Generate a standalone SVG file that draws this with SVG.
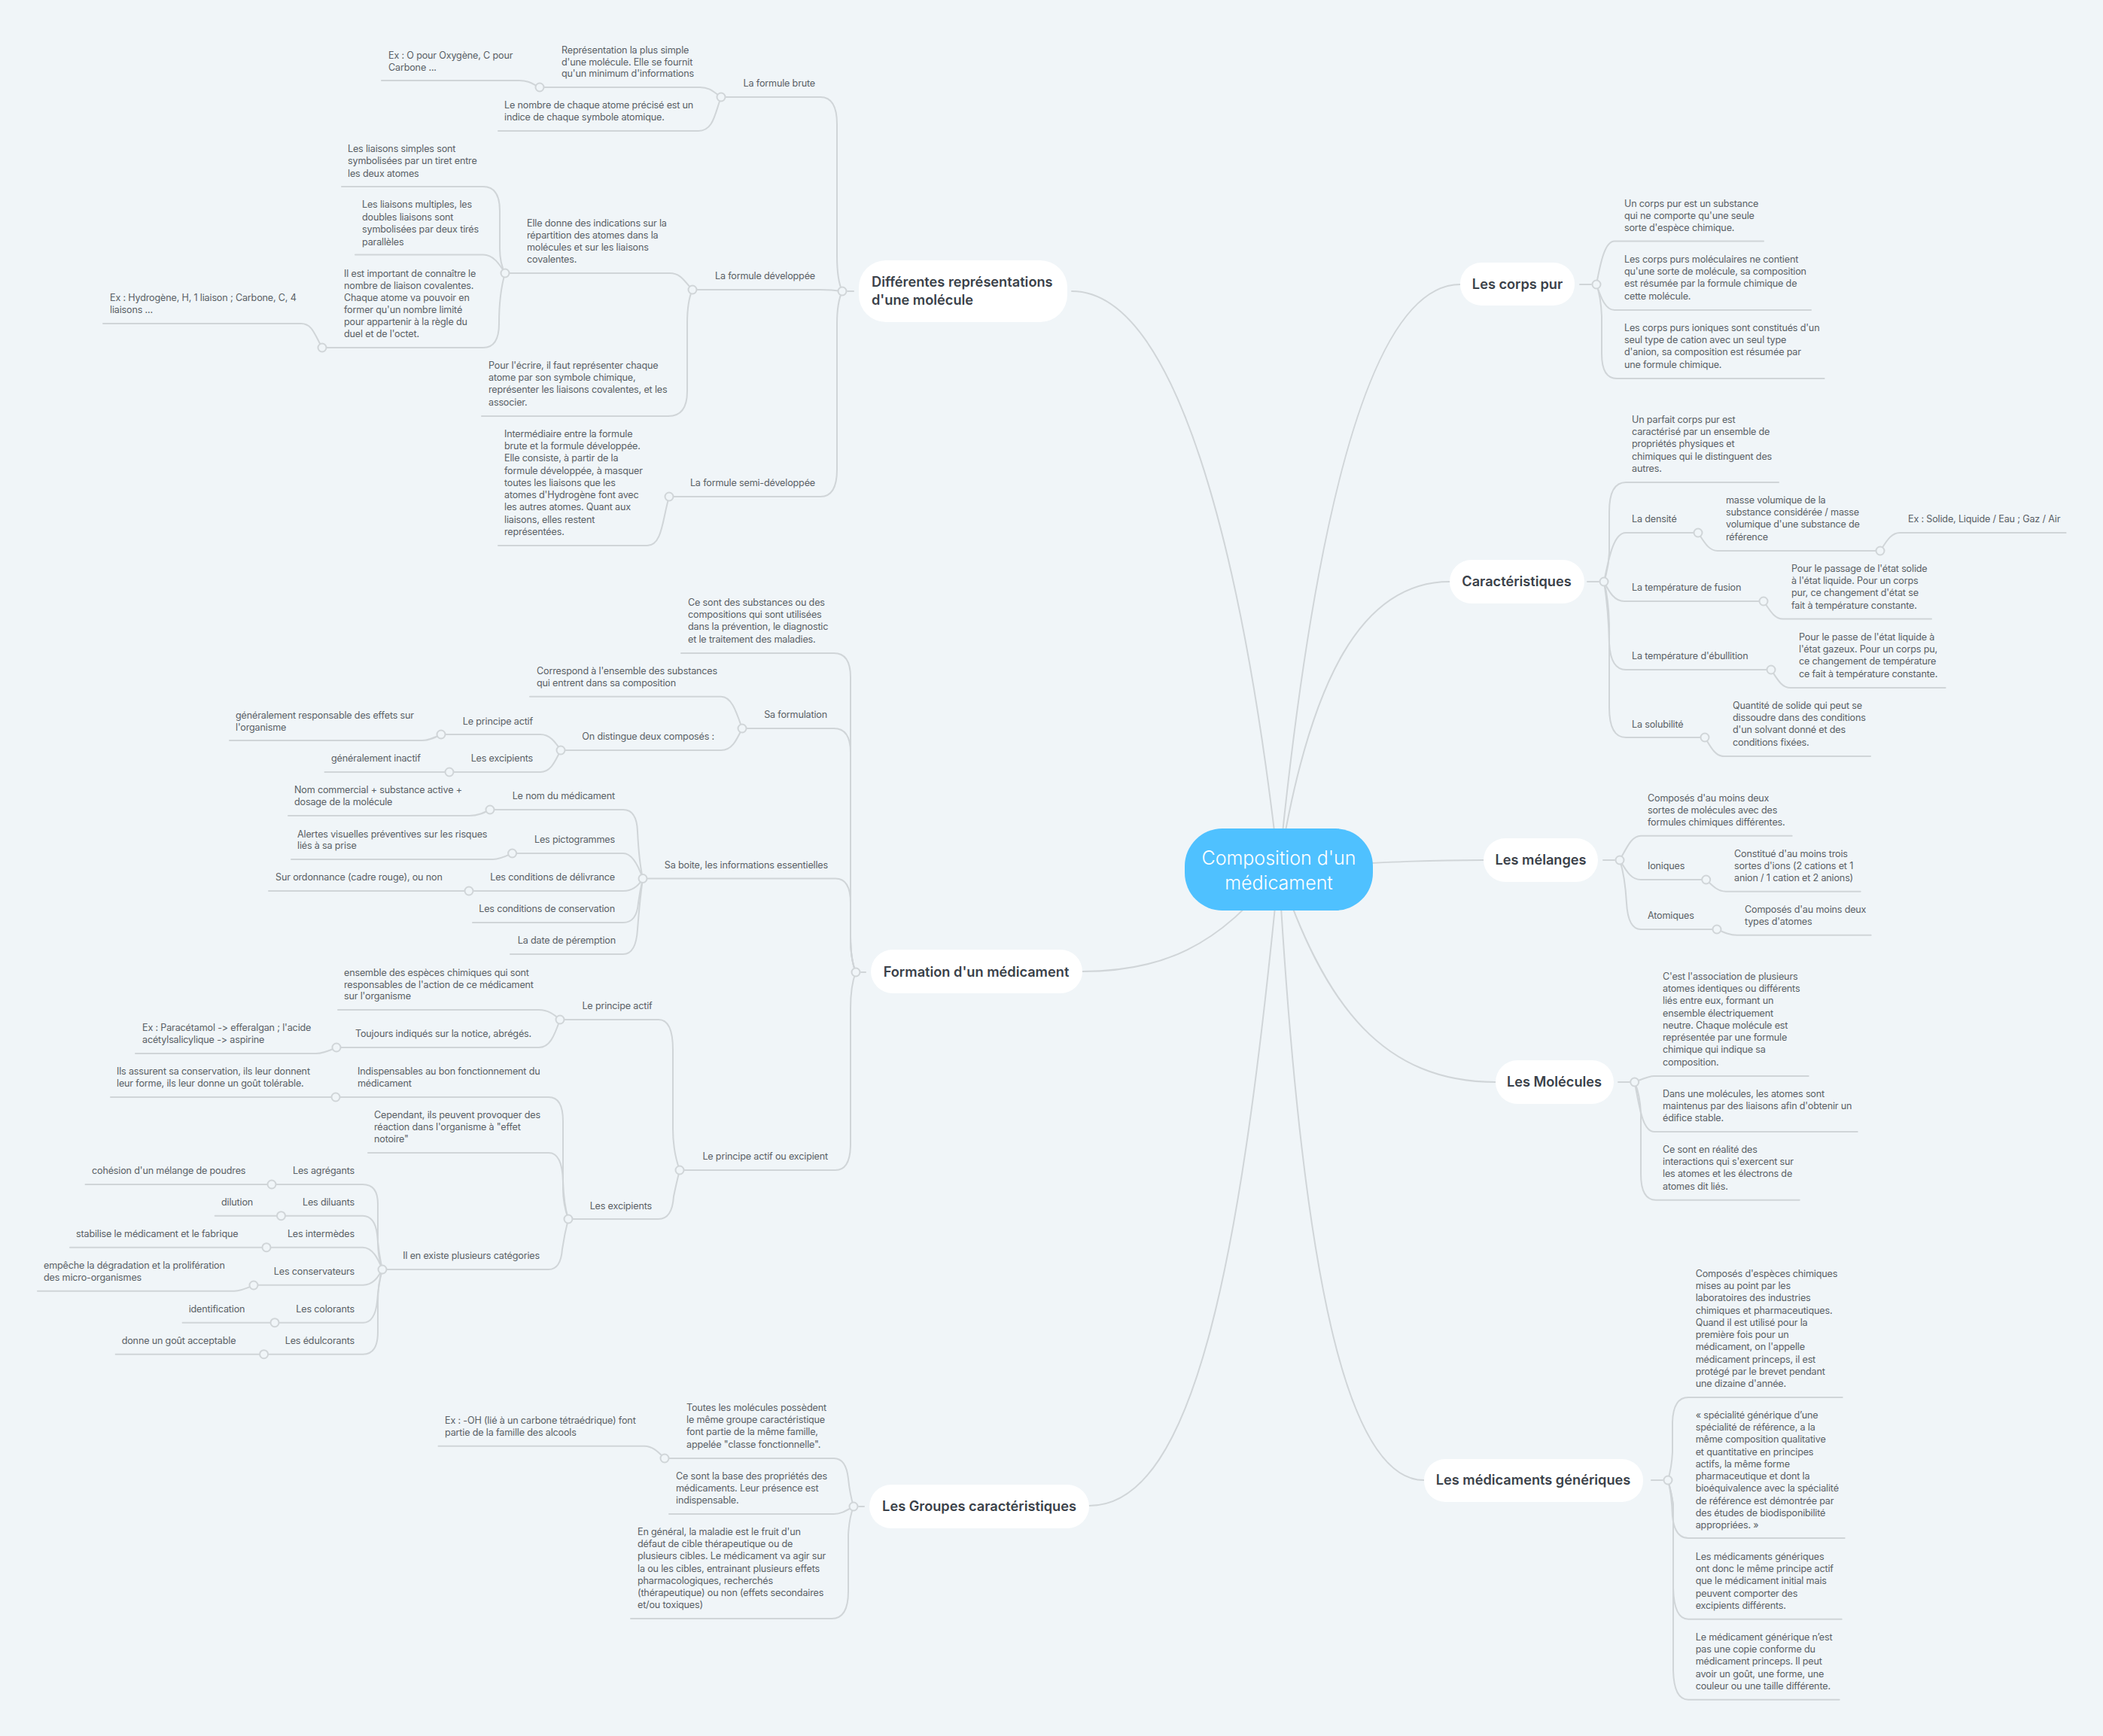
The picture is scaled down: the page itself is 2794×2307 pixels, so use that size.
<svg xmlns="http://www.w3.org/2000/svg" width="2794" height="2307" viewBox="0 0 2794 2307">
<style>
.bg{fill:#F0F5F8}
.c path{fill:none;stroke:#D0D5D8;stroke-width:2;stroke-linecap:round}
.j circle{fill:#F0F5F8;stroke:#D0D5D8;stroke-width:2}
text{font-family:"Inter","Noto Sans","Liberation Sans",sans-serif;font-variant-ligatures:none;font-feature-settings:"calt" 0,"liga" 0}
.t{font-size:12.6px;letter-spacing:-0.17px;fill:#595F65;font-weight:400}
.e{text-anchor:end}
.b{font-size:18.2px;font-weight:600;fill:#3A4149}
.m{text-anchor:middle}
.r{font-size:25px;font-weight:300;fill:#FFFFFF;text-anchor:middle}
.tp{fill:#FFFFFF}
</style>
<rect class="bg" width="2794" height="2307"/>
<g id="connectors" class="c">
<path d="M1424 387 C1560 387 1650 720 1699 1155"/>
<path d="M1940 378 C1830 378 1750 640 1699 1155"/>
<path d="M1926 773 C1810 773 1740 900 1699 1155"/>
<path d="M1971 1143 C1900 1143 1860 1145 1760 1150"/>
<path d="M1987 1438 C1840 1438 1760 1340 1699 1155"/>
<path d="M1892 1967 C1790 1967 1730 1700 1699 1155"/>
<path d="M1447 2001 C1590 2001 1650 1660 1699 1155"/>
<path d="M1438 1291 C1540 1291 1620 1260 1699 1155"/>
<path d="M958 129 H1090 Q1112 129 1112 165 V340 Q1112 372 1119 387"/>
<path d="M920 385 H1090 Q1105 385 1119 387"/>
<path d="M889 660 H1090 Q1112 660 1112 624 V430 Q1112 402 1119 387"/>
<path d="M1126 387 H1134"/>
<path d="M717 116 H930 C943 116 948 122 958 129"/>
<path d="M662 174 H928 C948 174 950 150 958 129"/>
<path d="M507 107 H690 C703 107 708 112 717 116"/>
<path d="M671 363 H890 C905 363 910 375 920 385"/>
<path d="M640 553 H888 Q913 553 913 520 V430 Q913 400 920 385"/>
<path d="M454 248 H642 Q664 248 664 280 V330 Q664 350 671 363"/>
<path d="M472 338.5 H642 C655 338.5 663 350 671 363"/>
<path d="M428 462 H642 Q663 462 663 430 Q663 390 671 363"/>
<path d="M137 430 H400 C415 430 418 445 428 462"/>
<path d="M662 725 H860 C880 725 880 690 889 660"/>
<path d="M905 868 H1108 Q1130 868 1130 900 V1245 Q1130 1275 1137 1292"/>
<path d="M986 968 H1108 Q1130 968 1130 1000 V1245 Q1130 1275 1137 1292"/>
<path d="M854 1167.5 H1110 Q1130 1167.5 1130 1200 V1245 Q1130 1275 1137 1292"/>
<path d="M903 1555 H1110 Q1130 1555 1130 1520 V1340 Q1130 1310 1137 1292"/>
<path d="M1144 1292 H1150"/>
<path d="M704 925.7 H958 C972 925.7 978 945 986 968"/>
<path d="M745 997 H958 C972 997 978 985 986 968"/>
<path d="M586 976 H718 C730 976 737 985 745 997"/>
<path d="M431.5 1026 H718 C732 1026 737 1012 745 997"/>
<path d="M305 984 H561 C570 984 578 980 586 976"/>
<path d="M651 1076 H828 Q846 1076 847 1105 Q849 1145 854 1167.5"/>
<path d="M680.6 1134 H828 C840 1134 848 1150 854 1167.5"/>
<path d="M357 1184 H828 C840 1184 848 1178 854 1167.5"/>
<path d="M628 1226 H828 Q846 1226 848 1200 Q850 1185 854 1167.5"/>
<path d="M678 1268 H828 Q845 1268 847 1235 Q850 1195 854 1167.5"/>
<path d="M383 1084 H624 C635 1084 643 1080 651 1076"/>
<path d="M387 1142 H655 C664 1142 672 1138 680.6 1134"/>
<path d="M744 1355 H875 Q894 1355 894 1395 V1500 Q894 1530 903 1555"/>
<path d="M755 1620 H875 Q893 1620 895 1590 Q898 1575 903 1555"/>
<path d="M449 1342 H716 C728 1342 736 1348 744 1355"/>
<path d="M447 1392 H716 C730 1392 736 1378 744 1355"/>
<path d="M180 1400 H420 C430 1400 438 1396 447 1392"/>
<path d="M147 1458 H729 Q748 1458 748 1490 V1580 Q748 1600 755 1620"/>
<path d="M489 1532 H729 Q747 1532 748 1570 Q749 1600 755 1620"/>
<path d="M508 1687 H729 Q745 1687 747 1660 Q750 1640 755 1620"/>
<path d="M113.5 1574 H482 Q502 1574 502 1600 V1650 Q502 1670 508 1687"/>
<path d="M285.7 1615.7 H482 Q498 1616 501 1640 Q503 1665 508 1687"/>
<path d="M93 1657.7 H482 C495 1658 502 1672 508 1687"/>
<path d="M337 1707.7 H482 C495 1708 502 1698 508 1687"/>
<path d="M242.6 1757.7 H482 Q498 1758 501 1730 Q503 1705 508 1687"/>
<path d="M153.7 1799.7 H482 Q502 1800 502 1770 V1730 Q502 1705 508 1687"/>
<path d="M50 1715.7 H311 C320 1715.7 328 1712 337 1708"/>
<path d="M883 1938 H1108 Q1124 1938 1127 1965 Q1129 1985 1134 2002"/>
<path d="M889 2012 H1108 C1118 2012 1125 2007 1134 2002"/>
<path d="M838 2151 H1105 Q1127 2151 1127 2115 V2040 Q1128 2018 1134 2002"/>
<path d="M1141 2002 H1148"/>
<path d="M582.5 1921.7 H856 C868 1922 875 1930 883 1938"/>
<path d="M2343 320.6 H2145 C2133 320.6 2127 345 2121 378"/>
<path d="M2406 412 H2145 C2133 412 2127 396 2121 378"/>
<path d="M2423.6 503 H2148 Q2128 503 2128 470 V420 Q2127 395 2121 378"/>
<path d="M2099 378 H2114"/>
<path d="M2363 641 H2160 Q2138 641 2138 680 V735 Q2137 755 2131 773"/>
<path d="M2256 708 H2160 C2143 708 2137 745 2131 773"/>
<path d="M2343 799 H2158 C2145 799 2138 787 2131 773"/>
<path d="M2353 890 H2160 Q2140 890 2138 855 Q2137 810 2131 773"/>
<path d="M2265 980 H2160 Q2138 980 2138 940 V830 Q2137 795 2131 773"/>
<path d="M2109 773 H2124"/>
<path d="M2498 732 H2282 C2270 732 2264 720 2256 708"/>
<path d="M2744.6 708 H2524 C2512 708 2506 720 2498 732"/>
<path d="M2566 822.6 H2368.6 C2357 822.6 2351 810 2343 799"/>
<path d="M2584.6 914 H2378.7 C2367 914 2361 902 2353 890"/>
<path d="M2485 1005 H2290 C2279 1005 2273 993 2265 980"/>
<path d="M2380.7 1110.7 H2180 C2168 1110.7 2162 1125 2152 1143"/>
<path d="M2266.7 1169 H2180 C2168 1169 2162 1160 2152 1143"/>
<path d="M2281 1235 H2180 Q2163 1235 2161 1200 Q2159 1165 2152 1143"/>
<path d="M2130 1143 H2145"/>
<path d="M2471.7 1184.7 H2293 C2282 1184.7 2275 1177 2266.7 1169"/>
<path d="M2485.7 1242.7 H2308 C2298 1242.7 2290 1239 2281 1235"/>
<path d="M2402.7 1430 H2198 C2190 1430 2182 1434 2171.7 1438"/>
<path d="M2467.7 1504 H2198 C2182 1504 2178 1470 2171.7 1438"/>
<path d="M2390.7 1594.7 H2200 Q2180 1594.7 2180 1560 V1480 Q2179 1455 2171.7 1438"/>
<path d="M2150 1438 H2165"/>
<path d="M2447.7 1857 H2243 Q2223 1857 2222 1890 V1930 Q2221 1950 2216 1967"/>
<path d="M2450.7 2044 H2243 Q2225 2044 2222 2015 Q2221 1985 2216 1967"/>
<path d="M2446.7 2151.7 H2243 Q2224 2151.7 2223 2110 V2000 Q2221 1985 2216 1967"/>
<path d="M2443.7 2258.7 H2243 Q2224 2258.7 2223 2220 V2000 Q2221 1985 2216 1967"/>
<path d="M2194 1967 H2209"/>
</g>
<g id="junctions" class="j">
<circle cx="1119" cy="387" r="5.5"/><circle cx="958" cy="129" r="5.5"/><circle cx="717" cy="116" r="5.5"/><circle cx="920" cy="385" r="5.5"/><circle cx="671" cy="363" r="5.5"/><circle cx="428" cy="462" r="5.5"/><circle cx="889" cy="660" r="5.5"/>
<circle cx="1137" cy="1292" r="5.5"/><circle cx="986" cy="968" r="5.5"/><circle cx="745" cy="997" r="5.5"/><circle cx="586" cy="976" r="5.5"/><circle cx="597" cy="1026" r="5.5"/><circle cx="854" cy="1167.5" r="5.5"/><circle cx="651" cy="1076" r="5.5"/><circle cx="680.6" cy="1134" r="5.5"/><circle cx="623" cy="1184" r="5.5"/><circle cx="903" cy="1555" r="5.5"/><circle cx="744" cy="1355" r="5.5"/><circle cx="447" cy="1392" r="5.5"/><circle cx="755" cy="1620" r="5.5"/><circle cx="446" cy="1458" r="5.5"/><circle cx="508" cy="1687" r="5.5"/><circle cx="361" cy="1574" r="5.5"/><circle cx="373.5" cy="1615.7" r="5.5"/><circle cx="354" cy="1657.7" r="5.5"/><circle cx="337" cy="1708" r="5.5"/><circle cx="365" cy="1757.7" r="5.5"/><circle cx="350.6" cy="1799.7" r="5.5"/>
<circle cx="1134" cy="2002" r="5.5"/><circle cx="883" cy="1938" r="5.5"/>
<circle cx="2121" cy="378" r="5.5"/><circle cx="2131" cy="773" r="5.5"/><circle cx="2256" cy="708" r="5.5"/><circle cx="2498" cy="732" r="5.5"/><circle cx="2343" cy="799" r="5.5"/><circle cx="2353" cy="890" r="5.5"/><circle cx="2265" cy="980" r="5.5"/>
<circle cx="2152" cy="1143" r="5.5"/><circle cx="2266.7" cy="1169" r="5.5"/><circle cx="2281" cy="1235" r="5.5"/><circle cx="2171.7" cy="1438" r="5.5"/><circle cx="2216" cy="1967" r="5.5"/>
</g>
<g id="root"><rect x="1574" y="1101" width="250" height="109" rx="50" fill="#4FC1FF"/><text class="r"><tspan x="1699" y="1149">Composition d'un</tspan><tspan x="1699" y="1182">médicament</tspan></text></g>
<g id="topic-representations"><rect class="tp" x="1141" y="346" width="277" height="82" rx="36"/><text class="b"><tspan x="1158" y="381">Différentes représentations</tspan><tspan x="1158" y="405">d'une molécule</tspan></text></g>
<g id="topic-formation"><rect class="tp" x="1157" y="1262" width="281" height="58" rx="29"/><text class="b m" x="1297" y="1298">Formation d'un médicament</text></g>
<g id="topic-groupes"><rect class="tp" x="1155" y="1973" width="292" height="58" rx="29"/><text class="b m" x="1301" y="2008">Les Groupes caractéristiques</text></g>
<g id="topic-corps"><rect class="tp" x="1940" y="349" width="152" height="57" rx="28"/><text class="b m" x="2016" y="384">Les corps pur</text></g>
<g id="topic-caract"><rect class="tp" x="1926" y="744" width="179" height="58" rx="29"/><text class="b m" x="2015" y="779">Caractéristiques</text></g>
<g id="topic-melanges"><rect class="tp" x="1971" y="1114" width="152" height="58" rx="29"/><text class="b m" x="2047" y="1149">Les mélanges</text></g>
<g id="topic-molecules"><rect class="tp" x="1987" y="1409" width="157" height="58" rx="29"/><text class="b m" x="2065" y="1444">Les Molécules</text></g>
<g id="topic-generiques"><rect class="tp" x="1892" y="1939" width="291" height="57" rx="28"/><text class="b m" x="2037" y="1973">Les médicaments génériques</text></g>

<g id="n1"><text class="t e" x="1083" y="115">La formule brute</text></g>
<g id="n2"><text class="t"><tspan x="746" y="71">Représentation la plus simple</tspan><tspan x="746" y="87">d'une molécule. Elle se fournit</tspan><tspan x="746" y="102">qu'un minimum d'informations</tspan></text></g>
<g id="n3"><text class="t"><tspan x="516" y="78">Ex : O pour Oxygène, C pour</tspan><tspan x="516" y="94">Carbone ...</tspan></text></g>
<g id="n4"><text class="t"><tspan x="670" y="144">Le nombre de chaque atome précisé est un</tspan><tspan x="670" y="160">indice de chaque symbole atomique.</tspan></text></g>
<g id="n5"><text class="t e" x="1083" y="371">La formule développée</text></g>
<g id="n6"><text class="t"><tspan x="700" y="301">Elle donne des indications sur la</tspan><tspan x="700" y="317">répartition des atomes dans la</tspan><tspan x="700" y="333">molécules et sur les liaisons</tspan><tspan x="700" y="349">covalentes.</tspan></text></g>
<g id="n7"><text class="t"><tspan x="462" y="202">Les liaisons simples sont</tspan><tspan x="462" y="218">symbolisées par un tiret entre</tspan><tspan x="462" y="235">les deux atomes</tspan></text></g>
<g id="n8"><text class="t"><tspan x="481" y="276">Les liaisons multiples, les</tspan><tspan x="481" y="293">doubles liaisons sont</tspan><tspan x="481" y="309">symbolisées par deux tirés</tspan><tspan x="481" y="326">parallèles</tspan></text></g>
<g id="n9"><text class="t"><tspan x="457" y="368">Il est important de connaître le</tspan><tspan x="457" y="384">nombre de liaison covalentes.</tspan><tspan x="457" y="400">Chaque atome va pouvoir en</tspan><tspan x="457" y="416">former qu'un nombre limité</tspan><tspan x="457" y="432">pour appartenir à la règle du</tspan><tspan x="457" y="448">duel et de l'octet.</tspan></text></g>
<g id="n10"><text class="t"><tspan x="146" y="400">Ex : Hydrogène, H, 1 liaison ; Carbone, C, 4</tspan><tspan x="146" y="416">liaisons ...</tspan></text></g>
<g id="n11"><text class="t"><tspan x="649" y="490">Pour l'écrire, il faut représenter chaque</tspan><tspan x="649" y="506">atome par son symbole chimique,</tspan><tspan x="649" y="522">représenter les liaisons covalentes, et les</tspan><tspan x="649" y="539">associer.</tspan></text></g>
<g id="n12"><text class="t e" x="1083" y="646">La formule semi-développée</text></g>
<g id="n13"><text class="t"><tspan x="670" y="581">Intermédiaire entre la formule</tspan><tspan x="670" y="597">brute et la formule développée.</tspan><tspan x="670" y="613">Elle consiste, à partir de la</tspan><tspan x="670" y="630">formule développée, à masquer</tspan><tspan x="670" y="646">toutes les liaisons que les</tspan><tspan x="670" y="662">atomes d'Hydrogène font avec</tspan><tspan x="670" y="678">les autres atomes. Quant aux</tspan><tspan x="670" y="695">liaisons, elles restent</tspan><tspan x="670" y="711">représentées.</tspan></text></g>

<g id="n14"><text class="t"><tspan x="914" y="805">Ce sont des substances ou des</tspan><tspan x="914" y="821">compositions qui sont utilisées</tspan><tspan x="914" y="837">dans la prévention, le diagnostic</tspan><tspan x="914" y="854">et le traitement des maladies.</tspan></text></g>
<g id="n15"><text class="t e" x="1099" y="954">Sa formulation</text></g>
<g id="n16"><text class="t"><tspan x="713" y="896">Correspond à l'ensemble des substances</tspan><tspan x="713" y="912">qui entrent dans sa composition</tspan></text></g>
<g id="n17"><text class="t e" x="949" y="983">On distingue deux composés :</text></g>
<g id="n18"><text class="t e" x="708" y="963">Le principe actif</text></g>
<g id="n19"><text class="t"><tspan x="313" y="955">généralement responsable des effets sur</tspan><tspan x="313" y="971">l'organisme</tspan></text></g>
<g id="n20"><text class="t e" x="708" y="1012">Les excipients</text></g>
<g id="n21"><text class="t" x="440" y="1012">généralement inactif</text></g>
<g id="n22"><text class="t e" x="1100" y="1154">Sa boite, les informations essentielles</text></g>
<g id="n23"><text class="t e" x="817" y="1062">Le nom du médicament</text></g>
<g id="n24"><text class="t"><tspan x="391" y="1054">Nom commercial + substance active +</tspan><tspan x="391" y="1070">dosage de la molécule</tspan></text></g>
<g id="n25"><text class="t e" x="817" y="1120">Les pictogrammes</text></g>
<g id="n26"><text class="t"><tspan x="395" y="1113">Alertes visuelles préventives sur les risques</tspan><tspan x="395" y="1128">liés à sa prise</tspan></text></g>
<g id="n27"><text class="t e" x="817" y="1170">Les conditions de délivrance</text></g>
<g id="n28"><text class="t" x="366" y="1170">Sur ordonnance (cadre rouge), ou non</text></g>
<g id="n29"><text class="t e" x="817" y="1212">Les conditions de conservation</text></g>
<g id="n30"><text class="t e" x="818" y="1254">La date de péremption</text></g>
<g id="n31"><text class="t e" x="1100" y="1541">Le principe actif ou excipient</text></g>
<g id="n32"><text class="t e" x="866.6" y="1341">Le principe actif</text></g>
<g id="n33"><text class="t"><tspan x="457" y="1297">ensemble des espèces chimiques qui sont</tspan><tspan x="457" y="1313">responsables de l'action de ce médicament</tspan><tspan x="457" y="1328">sur l'organisme</tspan></text></g>
<g id="n34"><text class="t e" x="706" y="1378">Toujours indiqués sur la notice, abrégés.</text></g>
<g id="n35"><text class="t"><tspan x="189" y="1370">Ex : Paracétamol -&gt; efferalgan ; l'acide</tspan><tspan x="189" y="1386">acétylsalicylique -&gt; aspirine</tspan></text></g>
<g id="n36"><text class="t e" x="866" y="1607">Les excipients</text></g>
<g id="n37"><text class="t"><tspan x="475" y="1428">Indispensables au bon fonctionnement du</tspan><tspan x="475" y="1444">médicament</tspan></text></g>
<g id="n38"><text class="t"><tspan x="155" y="1428">Ils assurent sa conservation, ils leur donnent</tspan><tspan x="155" y="1444">leur forme, ils leur donne un goût tolérable.</tspan></text></g>
<g id="n39"><text class="t"><tspan x="497" y="1486">Cependant, ils peuvent provoquer des</tspan><tspan x="497" y="1502">réaction dans l'organisme à "effet</tspan><tspan x="497" y="1518">notoire"</tspan></text></g>
<g id="n40"><text class="t e" x="717" y="1673">Il en existe plusieurs catégories</text></g>
<g id="n41"><text class="t e" x="471" y="1560">Les agrégants</text><text class="t" x="122" y="1560">cohésion d'un mélange de poudres</text></g>
<g id="n42"><text class="t e" x="471" y="1602">Les diluants</text><text class="t" x="294" y="1602">dilution</text></g>
<g id="n43"><text class="t e" x="471" y="1644">Les intermèdes</text><text class="t" x="101" y="1644">stabilise le médicament et le fabrique</text></g>
<g id="n44"><text class="t e" x="471" y="1694">Les conservateurs</text><text class="t"><tspan x="58" y="1686">empêche la dégradation et la prolifération</tspan><tspan x="58" y="1702">des micro-organismes</tspan></text></g>
<g id="n45"><text class="t e" x="471" y="1744">Les colorants</text><text class="t" x="250.7" y="1744">identification</text></g>
<g id="n46"><text class="t e" x="471" y="1786">Les édulcorants</text><text class="t" x="161.7" y="1786">donne un goût acceptable</text></g>

<g id="n47"><text class="t"><tspan x="912" y="1875">Toutes les molécules possèdent</tspan><tspan x="912" y="1891">le même groupe caractéristique</tspan><tspan x="912" y="1907">font partie de la même famille,</tspan><tspan x="912" y="1924">appelée "classe fonctionnelle".</tspan></text></g>
<g id="n48"><text class="t"><tspan x="591" y="1892">Ex : -OH (lié à un carbone tétraédrique) font</tspan><tspan x="591" y="1908">partie de la famille des alcools</tspan></text></g>
<g id="n49"><text class="t"><tspan x="898" y="1966">Ce sont la base des propriétés des</tspan><tspan x="898" y="1982">médicaments. Leur présence est</tspan><tspan x="898" y="1998">indispensable.</tspan></text></g>
<g id="n50"><text class="t"><tspan x="847" y="2040">En général, la maladie est le fruit d'un</tspan><tspan x="847" y="2056">défaut de cible thérapeutique ou de</tspan><tspan x="847" y="2072">plusieurs cibles. Le médicament va agir sur</tspan><tspan x="847" y="2089">la ou les cibles, entrainant plusieurs effets</tspan><tspan x="847" y="2105">pharmacologiques, recherchés</tspan><tspan x="847" y="2121">(thérapeutique) ou non (effets secondaires</tspan><tspan x="847" y="2137">et/ou toxiques)</tspan></text></g>

<g id="n51"><text class="t"><tspan x="2158" y="275">Un corps pur est un substance</tspan><tspan x="2158" y="291">qui ne comporte qu'une seule</tspan><tspan x="2158" y="307">sorte d'espèce chimique.</tspan></text></g>
<g id="n52"><text class="t"><tspan x="2158" y="349">Les corps purs moléculaires ne contient</tspan><tspan x="2158" y="365">qu'une sorte de molécule, sa composition</tspan><tspan x="2158" y="381">est résumée par la formule chimique de</tspan><tspan x="2158" y="398">cette molécule.</tspan></text></g>
<g id="n53"><text class="t"><tspan x="2158" y="440">Les corps purs ioniques sont constitués d'un</tspan><tspan x="2158" y="456">seul type de cation avec un seul type</tspan><tspan x="2158" y="472">d'anion, sa composition est résumée par</tspan><tspan x="2158" y="489">une formule chimique.</tspan></text></g>
<g id="n54"><text class="t"><tspan x="2168" y="562">Un parfait corps pur est</tspan><tspan x="2168" y="578">caractérisé par un ensemble de</tspan><tspan x="2168" y="594">propriétés physiques et</tspan><tspan x="2168" y="611">chimiques qui le distinguent des</tspan><tspan x="2168" y="627">autres.</tspan></text></g>
<g id="n55"><text class="t" x="2168" y="694">La densité</text></g>
<g id="n56"><text class="t"><tspan x="2293" y="669">masse volumique de la</tspan><tspan x="2293" y="685">substance considérée / masse</tspan><tspan x="2293" y="701">volumique d'une substance de</tspan><tspan x="2293" y="718">référence</tspan></text></g>
<g id="n57"><text class="t" x="2535" y="694">Ex : Solide, Liquide / Eau ; Gaz / Air</text></g>
<g id="n58"><text class="t" x="2168" y="785">La température de fusion</text></g>
<g id="n59"><text class="t"><tspan x="2380" y="760">Pour le passage de l'état solide</tspan><tspan x="2380" y="776">à l'état liquide. Pour un corps</tspan><tspan x="2380" y="792">pur, ce changement d'état se</tspan><tspan x="2380" y="809">fait à température constante.</tspan></text></g>
<g id="n60"><text class="t" x="2168" y="876">La température d'ébullition</text></g>
<g id="n61"><text class="t"><tspan x="2390" y="851">Pour le passe de l'état liquide à</tspan><tspan x="2390" y="867">l'état gazeux. Pour un corps pu,</tspan><tspan x="2390" y="883">ce changement de température</tspan><tspan x="2390" y="900">ce fait à température constante.</tspan></text></g>
<g id="n62"><text class="t" x="2168" y="967">La solubilité</text></g>
<g id="n63"><text class="t"><tspan x="2302" y="942">Quantité de solide qui peut se</tspan><tspan x="2302" y="958">dissoudre dans des conditions</tspan><tspan x="2302" y="974">d'un solvant donné et des</tspan><tspan x="2302" y="991">conditions fixées.</tspan></text></g>
<g id="n64"><text class="t"><tspan x="2189" y="1065">Composés d'au moins deux</tspan><tspan x="2189" y="1081">sortes de molécules avec des</tspan><tspan x="2189" y="1097">formules chimiques différentes.</tspan></text></g>
<g id="n65"><text class="t" x="2189" y="1155">Ioniques</text></g>
<g id="n66"><text class="t"><tspan x="2304" y="1139">Constitué d'au moins trois</tspan><tspan x="2304" y="1155">sortes d'ions (2 cations et 1</tspan><tspan x="2304" y="1171">anion / 1 cation et 2 anions)</tspan></text></g>
<g id="n67"><text class="t" x="2189" y="1221">Atomiques</text></g>
<g id="n68"><text class="t"><tspan x="2318" y="1213">Composés d'au moins deux</tspan><tspan x="2318" y="1229">types d'atomes</tspan></text></g>
<g id="n69"><text class="t"><tspan x="2209" y="1302">C'est l'association de plusieurs</tspan><tspan x="2209" y="1318">atomes identiques ou différents</tspan><tspan x="2209" y="1334">liés entre eux, formant un</tspan><tspan x="2209" y="1351">ensemble électriquement</tspan><tspan x="2209" y="1367">neutre. Chaque molécule est</tspan><tspan x="2209" y="1383">représentée par une formule</tspan><tspan x="2209" y="1399">chimique qui indique sa</tspan><tspan x="2209" y="1416">composition.</tspan></text></g>
<g id="n70"><text class="t"><tspan x="2209" y="1458">Dans une molécules, les atomes sont</tspan><tspan x="2209" y="1474">maintenus par des liaisons afin d'obtenir un</tspan><tspan x="2209" y="1490">édifice stable.</tspan></text></g>
<g id="n71"><text class="t"><tspan x="2209" y="1532">Ce sont en réalité des</tspan><tspan x="2209" y="1548">interactions qui s'exercent sur</tspan><tspan x="2209" y="1564">les atomes et les électrons de</tspan><tspan x="2209" y="1581">atomes dit liés.</tspan></text></g>
<g id="n72"><text class="t"><tspan x="2252.7" y="1697">Composés d'espèces chimiques</tspan><tspan x="2252.7" y="1713">mises au point par les</tspan><tspan x="2252.7" y="1729">laboratoires des industries</tspan><tspan x="2252.7" y="1746">chimiques et pharmaceutiques.</tspan><tspan x="2252.7" y="1762">Quand il est utilisé pour la</tspan><tspan x="2252.7" y="1778">première fois pour un</tspan><tspan x="2252.7" y="1794">médicament, on l'appelle</tspan><tspan x="2252.7" y="1811">médicament princeps, il est</tspan><tspan x="2252.7" y="1827">protégé par le brevet pendant</tspan><tspan x="2252.7" y="1843">une dizaine d'année.</tspan></text></g>
<g id="n73"><text class="t"><tspan x="2252.7" y="1885">« spécialité générique d’une</tspan><tspan x="2252.7" y="1901">spécialité de référence, a la</tspan><tspan x="2252.7" y="1917">même composition qualitative</tspan><tspan x="2252.7" y="1934">et quantitative en principes</tspan><tspan x="2252.7" y="1950">actifs, la même forme</tspan><tspan x="2252.7" y="1966">pharmaceutique et dont la</tspan><tspan x="2252.7" y="1982">bioéquivalence avec la spécialité</tspan><tspan x="2252.7" y="1999">de référence est démontrée par</tspan><tspan x="2252.7" y="2015">des études de biodisponibilité</tspan><tspan x="2252.7" y="2031">appropriées. »</tspan></text></g>
<g id="n74"><text class="t"><tspan x="2252.7" y="2073">Les médicaments génériques</tspan><tspan x="2252.7" y="2089">ont donc le même principe actif</tspan><tspan x="2252.7" y="2105">que le médicament initial mais</tspan><tspan x="2252.7" y="2122">peuvent comporter des</tspan><tspan x="2252.7" y="2138">excipients différents.</tspan></text></g>
<g id="n75"><text class="t"><tspan x="2252.7" y="2180">Le médicament générique n’est</tspan><tspan x="2252.7" y="2196">pas une copie conforme du</tspan><tspan x="2252.7" y="2212">médicament princeps. Il peut</tspan><tspan x="2252.7" y="2229">avoir un goût, une forme, une</tspan><tspan x="2252.7" y="2245">couleur ou une taille différente.</tspan></text></g>
</svg>
